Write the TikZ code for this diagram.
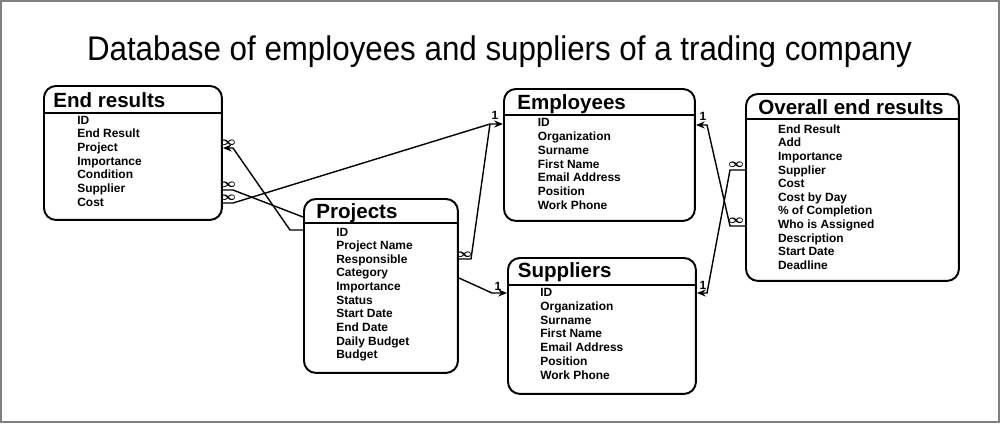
\documentclass[tikz,border=0pt]{standalone}
\usepackage{bm}
\usepackage{fontspec}
\setmainfont{Liberation Sans}
\usetikzlibrary{arrows.meta,calc}
\begin{document}
\begin{tikzpicture}[x=0.02cm,y=-0.02cm,
  tbl/.style={draw, line width=1.1pt, rounded corners=0.24cm, anchor=north west, inner sep=0pt},
  hdr/.style={font=\fontsize{11.7}{12}\selectfont\bfseries, anchor=base west, inner sep=0pt},
  fld/.style={font=\fontsize{6.8}{7}\selectfont\bfseries, anchor=base west, inner sep=0pt},
  conn/.style={line width=0.8pt},
  arr/.style={conn, -{Stealth[length=5pt,width=4pt]}},
  inf/.style={font=\fontsize{7.5}{7.5}\selectfont, inner sep=0pt, anchor=base},
  one/.style={font=\fontsize{6.8}{7}\selectfont\bfseries, inner sep=0pt}
]
\useasboundingbox (0,0) rectangle (1000,423);
\draw[gray, line width=1pt] (1,1) rectangle (999,422);

\node[font=\fontsize{18}{18}\selectfont, anchor=base, inner sep=0pt] (title) at (499.5,60) {\scalebox{0.99}[1.08]{Database of employees and suppliers of a trading company}};

% End results
\node[tbl, minimum width=3.56cm, minimum height=2.68cm] (end) at (43,85) {};
\draw[line width=1.1pt] (end.west |- 0,113) -- (end.east |- 0,113);
\node[hdr] (endT) at (53,107) {End results};
\foreach \t [count=\i from 0] in {ID,End Result,Project,Importance,Condition,Supplier,Cost}
  \node[fld] (endF\i) at (77,124+13.7*\i) {\t};

% Projects
\node[tbl, minimum width=3.08cm, minimum height=3.48cm] (proj) at (303,198) {};
\draw[line width=1.1pt] (proj.west |- 0,223) -- (proj.east |- 0,223);
\node[hdr] (projT) at (316,218) {Projects};
\foreach \t [count=\i from 0] in {ID,Project Name,Responsible,Category,Importance,Status,Start Date,End Date,Daily Budget,Budget}
  \node[fld] (projF\i) at (336,236+13.63*\i) {\t};

% Employees
\node[tbl, minimum width=3.82cm, minimum height=2.64cm] (emp) at (503,88) {};
\draw[line width=1.1pt] (emp.west |- 0,115) -- (emp.east |- 0,115);
\node[hdr] (empT) at (517,109) {Employees};
\foreach \t [count=\i from 0] in {ID,Organization,Surname,First Name,Email Address,Position,Work Phone}
  \node[fld] (empF\i) at (537.5,126.7+13.77*\i) {\t};

% Suppliers
\node[tbl, minimum width=3.76cm, minimum height=2.72cm] (sup) at (507,257) {};
\draw[line width=1.1pt] (sup.west |- 0,285) -- (sup.east |- 0,285);
\node[hdr] (supT) at (517.5,277.3) {Suppliers};
\foreach \t [count=\i from 0] in {ID,Organization,Surname,First Name,Email Address,Position,Work Phone}
  \node[fld] (supF\i) at (540,296.7+13.72*\i) {\t};

% Overall end results
\node[tbl, minimum width=4.26cm, minimum height=3.74cm] (ovr) at (745,93) {};
\draw[line width=1.1pt] (ovr.west |- 0,119) -- (ovr.east |- 0,119);
\node[hdr] (ovrT) at (758,114) {Overall end results};
\foreach \t [count=\i from 0] in {End Result,Add,Importance,Supplier,Cost,Cost by Day,\% of Completion,Who is Assigned,Description,Start Date,Deadline}
  \node[fld] (ovrF\i) at (777.7,133.3+13.6*\i) {\t};

% Connectors
\draw[arr] (proj.west |- 0,230) -- (290,230) -- (233,148) -- (end.east |- 0,148);
\draw[conn] (end.east |- 0,190) -- (233,190) -- (proj.west |- 0,217);
\draw[arr] (end.east |- 0,203) -- (233,203) -- (490,124) -- (emp.west |- 0,124);
\draw[conn] (proj.east |- 0,259) -- (471,259) -- (490,124);
\draw[arr] (proj.east |- 0,278) -- (492,293) -- (sup.west |- 0,293);
\draw[arr] (ovr.west |- 0,170) -- (730,170) -- (707,293) -- (sup.east |- 0,293);
\draw[arr] (ovr.west |- 0,226) -- (730,226) -- (707,125) -- (emp.east |- 0,125);

% Cardinalities (baseline-anchored, sitting on the stubs)
\node[inf] (i1) at (228,145.5) {$\bm{\infty}$};
\node[inf] (i2) at (228,187.5) {$\bm{\infty}$};
\node[inf] (i3) at (228,200.5) {$\bm{\infty}$};
\node[inf] (i4) at (464,257) {$\bm{\infty}$};
\node[inf] (i5) at (736,167.5) {$\bm{\infty}$};
\node[inf] (i6) at (736,223.5) {$\bm{\infty}$};
\node[one] (o1) at (495,115) {1};
\node[one] (o2) at (498,286) {1};
\node[one] (o3) at (703,116) {1};
\node[one] (o4) at (703,285) {1};
\end{tikzpicture}
\end{document}
